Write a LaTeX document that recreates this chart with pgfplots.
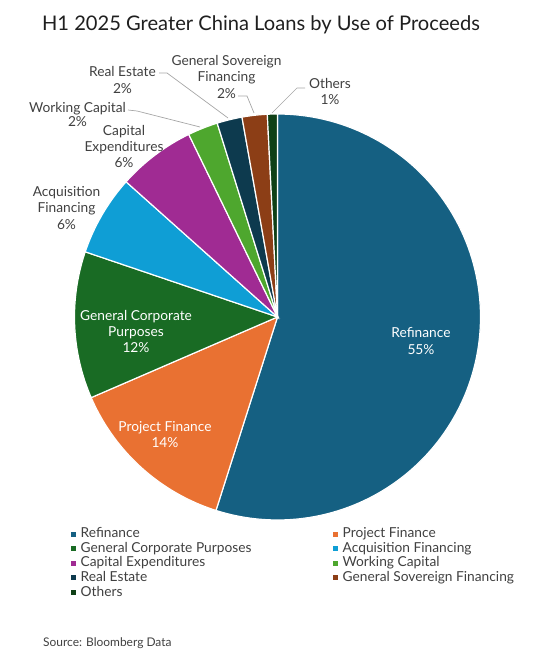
\documentclass[border=0pt]{standalone}
\usepackage{pgfplots}
\pgfplotsset{compat=1.18}
\usepackage{fontspec}
\setmainfont{Lato}

\definecolor{crefi}{HTML}{156082}
\definecolor{cproj}{HTML}{E97132}
\definecolor{cgcp}{HTML}{196B24}
\definecolor{cacq}{HTML}{0F9ED5}
\definecolor{ccapex}{HTML}{A02B93}
\definecolor{cwork}{HTML}{4EA72E}
\definecolor{creal}{HTML}{0D3A4E}
\definecolor{csov}{HTML}{8C3E16}
\definecolor{cother}{HTML}{0F4016}
\definecolor{labgray}{HTML}{404040}
\definecolor{leader}{HTML}{A6A6A6}

% pie centre and radius, in picture pixels
\def\cx{277.5}
\def\cy{348}
\def\rr{203}

% one slice: share in percent, colour, legend text
\newcommand\slice[3]{%
  \pgfmathsetmacro\aEnd{\aStart-3.6*#1}%
  \edef\temp{\noexpand\addplot[fill=#2, draw=white, line width=1.2pt,
    domain=\aEnd:\aStart, samples=120]
    ({\cx+\rr*cos(x)}, {\cy+\rr*sin(x)}) -- (axis cs:\cx,\cy) -- cycle;}%
  \temp
  \addlegendentry{\makebox[257bp][l]{\hspace{5bp}#3}}
  \xdef\aStart{\aEnd}%
}

\begin{document}
\begin{tikzpicture}
\useasboundingbox (0,0) rectangle (552bp,665bp);
\begin{axis}[
  at={(0,0)}, anchor=south west,
  scale only axis,
  width=552bp, height=665bp,
  xmin=0, xmax=552, ymin=0, ymax=665,
  hide axis, clip=false,
  legend columns=2,
  legend cell align=left,
  legend image code/.code={\fill[#1, draw=none] (0bp,-2.5bp) rectangle (5bp,2.5bp);},
  legend style={at={(70.5/552,137/665)}, anchor=north west, draw=none, fill=none,
    font=\fontsize{13.8}{15}\selectfont, text=labgray,
    inner sep=0pt, row sep=2.8bp,
    nodes={inner sep=0pt, text height=9.5bp, text depth=2.3bp}},
]
\xdef\aStart{90}
\slice{54.9}{crefi}{Refinance}
\slice{13.6}{cproj}{Project Finance}
\slice{11.7}{cgcp}{General Corporate Purposes}
\slice{6.4}{cacq}{Acquisition Financing}
\slice{6.2}{ccapex}{Capital Expenditures}
\slice{2.4}{cwork}{Working Capital}
\slice{2.0}{creal}{Real Estate}
\slice{2.0}{csov}{General Sovereign Financing}
\slice{0.8}{cother}{Others}

% leader lines
\draw[leader, line width=0.7pt] (axis cs:128,555) -- (axis cs:137,554) -- (axis cs:200,538);
\draw[leader, line width=0.7pt] (axis cs:159,592) -- (axis cs:167,592) -- (axis cs:228,547);
\draw[leader, line width=0.7pt] (axis cs:238,569) -- (axis cs:247,569) -- (axis cs:254,552);
\draw[leader, line width=0.7pt] (axis cs:305,577) -- (axis cs:297,577) -- (axis cs:272,552);

% data labels
\tikzset{lab/.style={align=center, font=\fontsize{13.8}{16.5}\selectfont, inner sep=0pt}}
\node[lab, white] at (axis cs:421,324) {Refinance\\55\%};
\node[lab, white] at (axis cs:165,230.5) {Project Finance\\14\%};
\node[lab, white] at (axis cs:136,333.5) {General Corporate\\Purposes\\12\%};
\node[lab, labgray] at (axis cs:66.5,457) {Acquisition\\Financing\\6\%};
\node[lab, labgray] at (axis cs:124,518.5) {Capital\\Expenditures\\6\%};
\node[lab, labgray, font=\fontsize{13.8}{15}\selectfont] at (axis cs:77.5,550.5) {Working Capital\\2\%};
\node[lab, labgray] at (axis cs:122.5,585) {Real Estate\\2\%};
\node[lab, labgray] at (axis cs:226.5,588) {General Sovereign\\Financing\\2\%};
\node[lab, labgray] at (axis cs:330,573.5) {Others\\1\%};

% title and source
\node[font=\fontsize{20.2}{23}\selectfont, text=black!88] at (axis cs:261,640) {H1 2025 Greater China Loans by Use of Proceeds};
\node[font=\fontsize{12}{14}\selectfont, text=labgray, anchor=base west, inner sep=0pt] at (axis cs:43,19) {Source: Bloomberg Data};
\end{axis}
\end{tikzpicture}
\end{document}
